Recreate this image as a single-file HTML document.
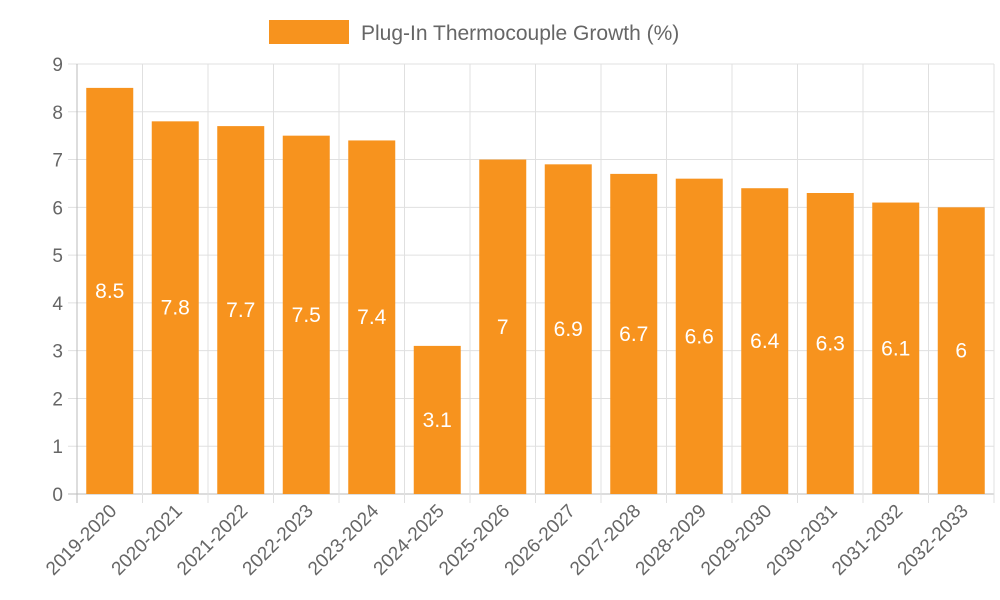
<!DOCTYPE html>
<html><head><meta charset="utf-8"><style>
html,body{margin:0;padding:0;background:#fff;}
svg{display:block;font-family:"Liberation Sans",Arial,sans-serif;}
</style></head><body>
<svg id="chart" width="1000" height="600" viewBox="0 0 1000 600">
<g id="legend">
<rect x="269" y="20" width="80" height="24" fill="#f7931e"></rect>
<text x="361" y="40" font-size="21" fill="#666">Plug-In Thermocouple Growth (%)</text>
</g>
<g id="grid"></g><g id="bars"></g><g id="axes"></g>
</svg>
<script>
const categories=["2019-2020","2020-2021","2021-2022","2022-2023","2023-2024","2024-2025","2025-2026","2026-2027","2027-2028","2028-2029","2029-2030","2030-2031","2031-2032","2032-2033"];
const values=[8.5,7.8,7.7,7.5,7.4,3.1,7,6.9,6.7,6.6,6.4,6.3,6.1,6];
const yTicks=[0,1,2,3,4,5,6,7,8,9];
const NS="http://www.w3.org/2000/svg";
const L=77,R=994,T=64,B=494,yMax=9;
const band=(R-L)/categories.length;
const y=v=>B-(v/yMax)*(B-T);
const x=i=>L+band*i;
function mk(tag,attrs,parent,text){const e=document.createElementNS(NS,tag);for(const k in attrs)e.setAttribute(k,attrs[k]);if(text!==undefined)e.textContent=text;parent.appendChild(e);return e;}
const grid=document.getElementById('grid'),bars=document.getElementById('bars'),axes=document.getElementById('axes');
yTicks.forEach(t=>{
 const g=mk('line',{x1:L-9,x2:R,y1:y(t),y2:y(t),stroke:t===0?'#bbb':'#e0e0e0','stroke-width':1},grid);
 
 
 const lb=mk('text',{x:L-14,y:y(t)+7,'text-anchor':'end','font-size':19,fill:'#666'},axes,String(t));
 
 
});
for(let i=0;i<=categories.length;i++){
 const g=mk('line',{x1:x(i),x2:x(i),y1:T,y2:B+9,stroke:i===0?'#bbb':'#e0e0e0','stroke-width':1},grid);
 
 
}
categories.forEach((c,i)=>{
 const cx=x(i)+band/2,w=47;
 const r=mk('rect',{x:cx-w/2,y:y(values[i]),width:w,height:B-y(values[i]),fill:'#f7931e'},bars);
 
 
 const v=mk('text',{x:cx,y:(y(values[i])+B)/2+7,'text-anchor':'middle','font-size':21,fill:'#fff'},bars,String(values[i]));
 
 
 const tx=cx+8,ty=B+18;
 const lb=mk('text',{x:tx,y:ty,'text-anchor':'end','font-size':19,fill:'#666',transform:`rotate(-45 ${tx} ${ty})`},axes,c);
 
 
});
</script>
</body></html>
